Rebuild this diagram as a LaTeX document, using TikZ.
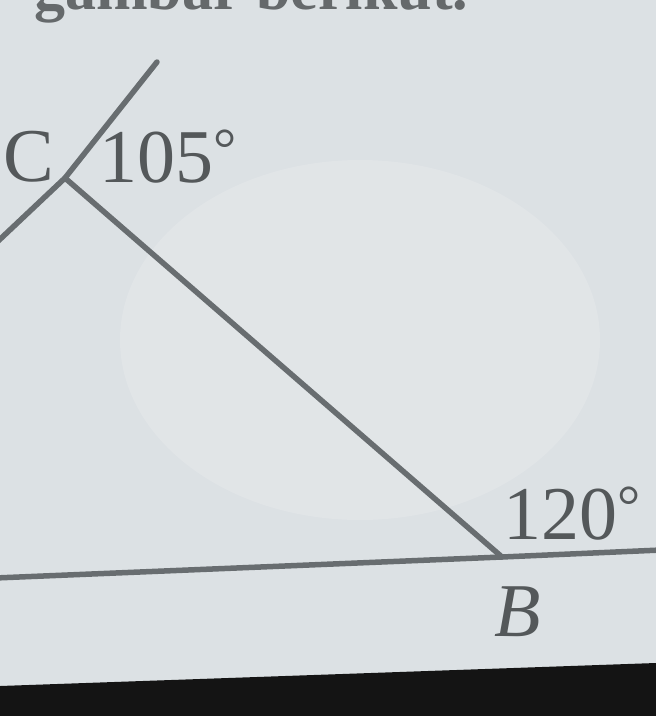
\documentclass[tikz,border=0pt]{standalone}
\usepackage{fontspec}
\setmainfont{Liberation Serif}
\definecolor{paper}{HTML}{DCE1E4}
\definecolor{paperlight}{HTML}{E6E9EB}
\definecolor{ink}{HTML}{686D70}
\definecolor{txt}{HTML}{54585A}
\tikzset{
  geoline/.style={draw=ink, line width=5.5pt, line cap=round},
  lbl/.style={text=txt, inner sep=0pt, anchor=base west, font=\fontsize{76}{76}\selectfont},
  degsign/.style={},
}
\newcommand{\degmark}{\raisebox{0.38ex}{\fontsize{58}{58}\selectfont°}}
\begin{document}
\begin{tikzpicture}[x=1pt,y=-1pt]
\useasboundingbox (0,0) rectangle (656,716);
\clip (0,0) rectangle (656,716);
\fill[paper] (0,0) rectangle (656,716);
\fill[paperlight, opacity=0.5] (360,340) ellipse (240 and 180);
\fill[black!92] (0,686) -- (656,663) -- (656,716) -- (0,716) -- cycle;
% top cut-off text
\node[lbl, text=txt!90, font=\fontsize{62}{62}\selectfont\bfseries] (top) at (34,9) {gambar berikut.};
% points
\coordinate (C) at (65,178);
\coordinate (B) at (502,557);
\coordinate (L1) at (-5,244);
\coordinate (L2) at (157,62);
\coordinate (H1) at (-5,578);
\coordinate (H2) at (661,550);
% lines
\draw[geoline] (L1) -- (C) -- (L2);
\draw[geoline] (C) -- (B);
\draw[geoline] (H1) -- (B) -- (H2);
% labels
\node[lbl] (lC) at (3,181) {C};
\node[lbl] (l105) at (99,182) {105\degmark};
\node[lbl] (l120) at (503,539) {120\degmark};
\node[lbl, font=\fontsize{76}{76}\selectfont\itshape] (lB) at (494,636) {B};
\end{tikzpicture}
\end{document}
